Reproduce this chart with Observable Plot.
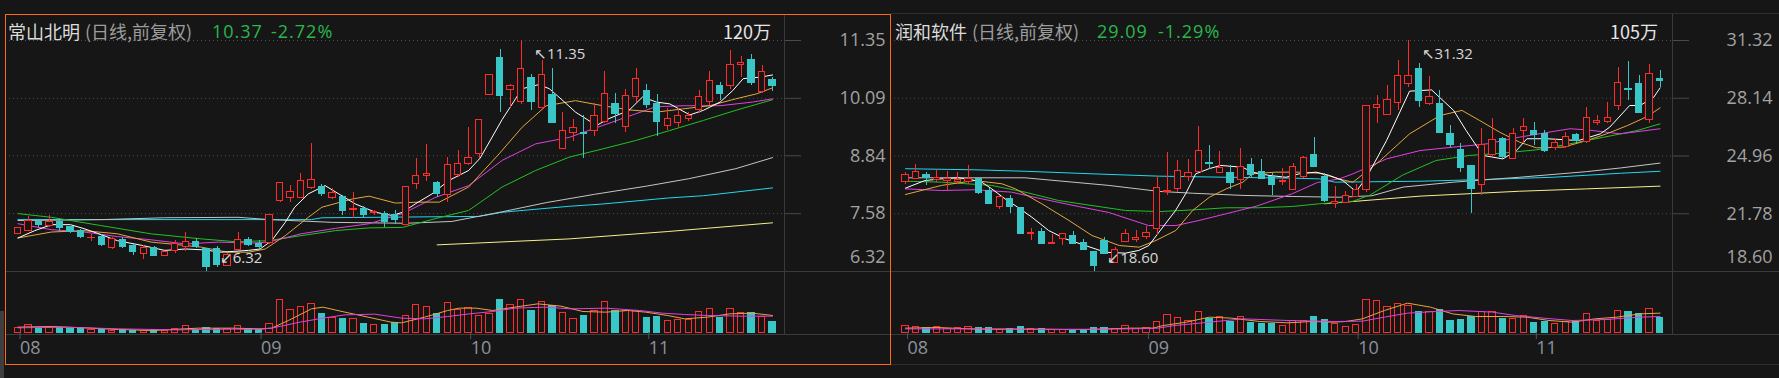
<!DOCTYPE html>
<html><head><meta charset="utf-8">
<script src="https://cdn.jsdelivr.net/npm/d3@7"></script>
<script src="https://cdn.jsdelivr.net/npm/@observablehq/plot@0.6"></script>
<style>
html,body{margin:0;padding:0;background:#161616;}
body{width:1779px;height:378px;position:relative;overflow:hidden;}
.abs{position:absolute;}
.t{position:absolute;white-space:nowrap;line-height:22px;font-family:"Noto Sans CJK SC",sans-serif;}
.n{font-family:"Open Sans",sans-serif;letter-spacing:1px;}
svg{display:block;}
</style></head><body>
<script>
// ---------- shared ----------
const months = ["08", "09", "10", "11"];
const monthStart = [0, 23, 43, 60];

// ---------- panel 1 : 常山北明 ----------
const p1Name = "常山北明";
const p1Sub = "(日线,前复权)";
const p1Last = "10.37";
const p1Chg = "-2.72%";
const p1VolLabel = "120万";
const p1YTicks = [11.35, 10.09, 8.84, 7.58, 6.32];
const p1Open = [7.14,7.21,7.39,7.32,7.39,7.28,7.21,7.04,7.08,6.83,7.01,6.87,6.71,6.83,6.65,6.76,6.85,6.96,6.80,6.82,6.44,6.79,7.01,6.91,6.93,7.85,7.93,7.93,8.13,8.17,7.93,7.95,7.65,7.69,7.59,7.58,7.56,7.34,8.23,8.40,8.24,7.99,8.43,8.67,8.87,10.17,10.97,10.28,10.01,10.54,9.88,10.17,8.99,9.33,9.34,9.39,9.57,9.97,9.46,10.12,10.26,9.96,9.48,9.56,9.64,9.83,10.01,10.37,10.37,10.81,10.92,10.22,10.50];
const p1High = [7.28,7.52,7.45,7.54,7.43,7.30,7.23,7.13,7.12,7.06,7.06,6.90,6.89,6.86,6.76,6.99,7.18,7.03,6.83,6.86,6.72,7.18,7.06,6.99,7.54,8.26,8.19,8.45,9.10,8.21,8.13,7.98,8.03,7.74,7.65,7.63,7.65,8.16,8.79,9.09,8.29,8.81,8.95,9.45,9.64,10.60,11.15,10.39,11.35,10.62,10.92,10.75,9.79,9.62,9.72,9.97,10.68,10.20,10.28,10.75,10.39,10.17,9.86,9.86,9.79,10.26,10.68,10.44,11.13,11.00,11.05,10.81,10.55];
const p1Low = [7.12,7.20,7.28,7.28,7.20,7.14,7.03,6.98,6.87,6.80,6.83,6.67,6.59,6.64,6.64,6.72,6.76,6.83,6.32,6.40,6.43,6.78,6.86,6.80,6.90,7.83,7.83,7.91,8.10,7.95,7.88,7.55,7.48,7.49,7.54,7.28,7.35,7.32,8.10,8.29,7.93,7.83,8.37,8.62,8.77,10.15,9.78,9.90,9.96,9.83,9.83,9.55,8.98,9.14,8.77,9.25,9.54,9.54,9.35,10.01,9.88,9.26,9.39,9.46,9.59,9.77,9.93,10.04,10.28,10.55,10.37,10.19,10.24];
const p1Close = [7.26,7.43,7.33,7.39,7.26,7.18,7.07,7.06,6.89,7.03,6.86,6.74,6.84,6.65,6.74,6.91,6.97,6.85,6.41,6.46,6.69,7.00,6.90,6.85,7.54,8.25,8.05,8.29,8.32,8.00,8.03,7.63,7.69,7.54,7.61,7.39,7.45,8.16,8.40,8.45,8.01,8.63,8.67,8.79,9.62,10.59,10.14,10.37,10.73,10.01,10.59,9.55,9.39,9.45,9.32,9.71,10.19,9.74,10.15,10.52,9.95,9.58,9.64,9.70,9.70,10.13,10.46,10.19,10.81,10.87,10.42,10.66,10.37];
const p1Vol = [8.7,14.7,7.3,8.7,9.3,7.3,8.7,5.3,5.3,4,4.7,3.3,3.3,4.7,3.3,8,12.7,6,8.7,7.3,7.3,12.7,7.3,6,16.7,65.3,45.3,50.7,57.3,37.3,29.3,27.3,27.3,17.3,15.3,16,19.3,33.3,55.3,50.7,37.3,59.3,45.3,49.3,33.3,37.3,65.3,55.3,65.3,44,61.3,52.7,39.3,27.3,33.3,42.7,61.3,42.7,44,44,29.3,31.3,22.7,24.7,26,41.3,46.7,29.3,46.7,39.3,39.3,30.7,22];
const p1Ma5 = [[0,7.05],[1.6,7.21],[3.2,7.34],[5,7.34],[6.2,7.26],[7.6,7.15],[9.5,6.99],[11.8,6.89],[14,6.78],[16,6.81],[17.8,6.79],[19.4,6.74],[20.7,6.76],[22,6.78],[23.1,6.81],[24.2,6.99],[25.5,7.39],[26.4,7.72],[27.7,8.01],[29.3,8.19],[32.2,7.79],[34.1,7.61],[35.7,7.54],[36.7,7.61],[37.9,7.79],[39.5,8.01],[41.1,8.30],[43,8.52],[44.1,8.79],[46.2,9.63],[48.1,10.30],[49.7,10.39],[50.7,10.30],[52,10.04],[53.2,9.79],[55.2,9.50],[56.4,9.65],[58.3,9.83],[59.6,10.12],[60.9,10.01],[62.2,9.97],[64.1,9.73],[65.4,9.83],[67,10.01],[68.2,10.26],[69.2,10.52],[70.8,10.55],[72,10.60]];
const p1Ma10 = [[0,7.05],[3.2,7.18],[6.3,7.21],[9.5,7.14],[12.7,6.96],[15,6.91],[17.5,6.85],[20,6.74],[22,6.74],[23.6,6.81],[25.5,7.10],[27.7,7.50],[29,7.72],[31.9,7.90],[33.5,7.96],[36,7.81],[38.2,7.83],[40.2,7.83],[43,8.16],[45.9,8.88],[48.1,9.46],[50.4,9.93],[53.2,10.04],[55.8,9.93],[58.3,9.84],[60.9,9.79],[63.4,9.86],[66,9.93],[68.5,10.08],[70.5,10.19],[72,10.32]];
const p1Ma20 = [[0,7.36],[3.2,7.23],[6.3,7.18],[9.5,7.08],[12.7,7.01],[16,6.92],[19.1,6.96],[22.3,6.94],[23.9,6.96],[27,7.14],[30.3,7.26],[33.5,7.36],[36.7,7.58],[39.8,7.93],[43,8.19],[46.2,8.74],[49.4,9.10],[52.6,9.24],[55.8,9.50],[58.9,9.75],[60.9,9.91],[63.8,9.93],[67,9.93],[70.1,10.01],[72,10.08]];
const p1Ma30 = [[0,7.58],[3.2,7.50],[7.9,7.32],[12.7,7.14],[17.5,7.03],[20.7,6.97],[23.9,6.99],[27,7.10],[30.3,7.21],[33.5,7.27],[36.7,7.28],[39.8,7.47],[43,7.65],[46.2,8.16],[49.4,8.52],[52.6,8.81],[55.8,8.99],[58.9,9.17],[62.2,9.39],[65.4,9.61],[68.5,9.83],[72,10.06]];
const p1Ma60 = [[0,7.43],[8,7.45],[14,7.49],[21,7.50],[24,7.45],[30,7.39],[37,7.37],[41.4,7.41],[46.2,7.62],[50.4,7.82],[55,8.00],[60,8.18],[64,8.34],[68.5,8.56],[72,8.80]];
const p1Ma120 = [[0,7.45],[28,7.45],[29,7.49],[44,7.52],[46.2,7.61],[52.6,7.74],[55.8,7.79],[62,7.92],[65.4,7.97],[72,8.14]];
const p1Ma250 = [[40,6.90],[52.6,7.03],[62,7.19],[72,7.38]];
const p1VolMa5 = [[0,10.7],[3.2,12],[6.4,9.3],[9.6,6],[12.9,4],[17.2,8.7],[20.4,8.7],[23.1,7.3],[24.2,8.7],[25.8,24],[28,47.3],[29.1,50.7],[31.2,40.7],[33.4,30.7],[35.6,20.7],[36.6,19.3],[38.8,30.7],[41,44],[42.1,48.7],[43.7,48.7],[45.3,44],[47.4,50.7],[49.6,57.3],[51.8,52.7],[53.9,42],[56.1,40.7],[58.2,44],[59.9,40.7],[62,34],[63.6,27.3],[65.8,30.7],[67.9,37.3],[70.1,38.7],[72,34]];
const p1VolMa10 = [[0,9.3],[4.3,10.7],[9.6,7.3],[15.1,5.3],[20.5,6.7],[23.1,6.7],[24.2,8.7],[26.9,20.7],[29.1,28.7],[31.2,35.3],[34,36.7],[36.6,28.7],[38.8,27.3],[41,32],[43.1,37.3],[45.3,42],[47.4,48.7],[50.2,50.7],[52.8,47.3],[56.1,48.7],[59.3,44],[61.5,38.7],[63.6,36],[65.8,34],[69,32.7],[72,32.7]];
const p1HighMark = [48, 11.35];
const p1LowMark = [18, 6.32];

// ---------- panel 2 : 润和软件 ----------
const p2Name = "润和软件";
const p2Sub = "(日线,前复权)";
const p2Last = "29.09";
const p2Chg = "-1.29%";
const p2VolLabel = "105万";
const p2YTicks = [31.32, 28.14, 24.96, 21.78, 18.60];
const p2Open = [23.52,23.70,23.94,23.65,23.57,23.52,23.55,23.70,23.02,22.14,22.60,22.09,20.64,20.80,20.13,20.40,20.58,20.18,19.70,20.27,19.06,20.21,20.31,20.49,20.95,22.97,23.13,23.79,24.09,24.58,24.02,24.03,23.63,24.44,24.10,23.79,23.52,23.10,23.78,24.99,23.79,22.33,22.38,22.69,23.10,27.61,27.23,27.87,28.90,29.76,27.80,27.83,26.18,25.30,24.40,23.34,24.99,25.87,24.80,26.36,26.36,26.18,25.41,25.45,26.09,25.72,26.80,26.82,27.74,28.66,28.90,26.95,29.18];
const p2High = [24.07,24.49,24.07,24.20,24.12,24.07,24.44,23.70,23.15,22.79,22.79,22.14,20.95,20.95,20.64,20.71,20.80,20.35,19.70,20.49,19.94,20.89,20.86,21.08,23.83,25.15,24.71,24.78,26.58,25.56,25.20,24.44,25.35,24.80,24.75,23.98,24.25,24.57,24.93,26.00,23.98,23.28,23.01,23.39,27.72,28.29,28.84,30.22,31.32,30.04,29.34,28.57,26.64,25.67,24.44,26.46,27.01,25.99,26.46,27.01,26.79,26.36,25.91,26.27,26.18,27.61,27.20,27.92,29.85,30.16,29.39,30.00,29.67];
const p2Low = [23.39,23.65,23.34,23.52,23.06,23.39,23.39,22.84,22.33,22.00,21.81,20.64,20.31,20.13,20.10,20.03,20.09,19.76,18.60,19.57,19.02,20.18,20.21,20.35,20.58,22.80,22.97,23.56,24.07,24.22,23.98,23.12,23.12,23.79,23.65,22.79,23.34,23.06,23.74,24.31,22.42,22.05,22.33,22.66,22.97,26.77,27.19,27.47,28.75,27.61,27.74,26.18,25.45,24.07,21.81,22.79,24.93,24.80,24.77,25.63,25.54,25.17,25.26,25.35,25.63,25.63,26.64,26.73,27.47,28.02,27.28,26.77,28.75];
const p2Close = [23.94,24.07,23.76,23.74,23.70,23.65,23.70,22.91,22.33,22.69,22.14,20.68,20.73,20.13,20.18,20.64,20.13,19.79,18.89,19.57,19.81,20.64,20.46,20.73,23.21,23.05,24.16,24.03,25.21,24.52,24.28,23.45,24.35,23.91,23.72,23.34,23.61,24.35,24.83,24.35,22.47,22.42,22.75,23.10,27.72,27.78,28.05,29.34,29.39,27.98,28.20,26.22,25.54,24.31,23.15,25.57,25.85,24.90,26.18,26.55,26.09,25.23,25.67,25.99,25.81,27.06,26.86,27.06,28.99,28.60,27.32,29.47,29.09];
const p2Vol = [13.3,11.3,8.7,10.7,7.3,8.7,10.7,8.7,8.7,5.3,7.3,11.3,7.3,7.3,6,6,6,6,9.3,8.7,7.3,12.7,7.3,8.7,20.7,35.3,28.7,24,40.7,27.3,30.7,22,30.7,19.3,17.3,17.3,14,24,24,30.7,25.3,17.3,10.7,15.3,64.7,62.7,50.7,57.3,54,40.7,40.7,44.7,23.3,25.3,32,40.7,42,27.3,27.3,34,19.3,20.7,17.3,20.7,20.7,36.7,24,24.7,42.7,41.3,36.7,46.7,29.3];
const p2Ma5 = [[0,23.19],[1.85,23.61],[3.44,23.70],[5.04,23.76],[6.32,23.65],[7.27,23.52],[8.23,23.15],[9.5,22.60],[10.78,22.11],[12.06,21.59],[13.65,20.86],[15.25,20.40],[17.16,20.03],[19.07,19.66],[20.99,19.61],[22.26,19.76],[23.22,20.03],[24.18,20.76],[25.77,21.96],[26.73,22.88],[27.69,23.98],[28.96,24.26],[30.08,24.44],[32.15,24.34],[33.11,24.07],[34.7,23.89],[36.3,23.79],[37.58,23.98],[39.17,24.07],[40.45,23.89],[41.72,23.61],[43,23.00],[44,23.79],[45.9,25.81],[48.1,28.53],[50.2,28.60],[52.3,27.47],[53.5,26.36],[55.1,24.99],[57,24.80],[58.3,25.26],[59.3,25.91],[61.2,25.91],[63.1,25.85],[64.2,25.81],[66.3,26.18],[67.2,26.55],[69.1,27.74],[70.1,27.74],[71.4,28.20],[72,28.71]];
const p2Ma10 = [[0,22.84],[3.44,23.34],[6.6,23.61],[9.2,23.43],[10.5,23.15],[13,22.33],[15.6,21.41],[17.8,20.58],[20.4,20.03],[22.3,19.94],[23.9,20.31],[25.8,20.86],[27.4,21.96],[29,22.69],[30.6,23.15],[32.2,23.52],[33.1,23.98],[35.3,24.07],[37.6,24.07],[39.5,24.01],[41.7,23.65],[42.7,23.52],[45.3,24.71],[48.1,26.18],[51,27.19],[53.1,27.47],[54.8,26.91],[56.7,26.27],[58.6,25.72],[60.2,25.41],[62.8,25.45],[65,25.81],[66.9,26.18],[68.9,26.64],[70.8,27.14],[72,27.61]];
const p2Ma20 = [[0,23.15],[3.44,23.06],[6.6,23.10],[10.1,22.97],[13,22.60],[16.5,22.18],[19.4,21.85],[23.2,21.13],[25.8,21.13],[28,21.41],[30.6,21.78],[33.5,22.20],[36.9,22.88],[39.3,23.50],[41.4,23.70],[42.7,23.98],[45.9,24.80],[49.1,25.26],[52.3,25.45],[55.5,25.63],[58.6,26.00],[61.8,26.31],[63.4,26.46],[65,26.40],[68.2,26.18],[72,26.46]];
const p2Ma30 = [[0,23.57],[3.44,23.52],[8.2,23.34],[11.4,22.97],[14.6,22.51],[17.8,22.23],[21,21.96],[24.2,21.90],[27.4,21.99],[30.6,22.11],[33.7,22.11],[36.9,22.18],[39.5,22.33],[42.7,22.47],[44.3,22.80],[47.4,23.90],[50.6,24.71],[53.8,24.99],[57,25.12],[60.2,25.30],[63.4,25.63],[66.6,25.99],[69.8,26.36],[72,26.73]];
const p2Ma60 = [[0,23.76],[11.4,23.76],[19.4,23.34],[24.2,23.01],[27.4,22.91],[32.2,22.79],[36.9,22.73],[41.4,22.69],[44.5,22.77],[47.5,23.25],[52.3,23.52],[58.6,23.79],[65,24.10],[68.2,24.30],[72,24.57]];
const p2Ma120 = [[0,24.26],[6.6,24.20],[11.4,24.12],[17.8,23.98],[24.2,23.85],[30.6,23.79],[36.9,23.74],[39.5,23.70],[41,23.52],[49.1,23.57],[55.5,23.67],[61.8,23.79],[68.2,24.01],[72,24.12]];
const p2Ma250 = [[40,22.33],[49.1,22.75],[58.6,23.02],[65,23.15],[72,23.30]];
const p2VolMa5 = [[0,8.7],[3,10],[6.8,6.7],[12.2,6.7],[17.6,6],[21.4,8.7],[23.6,8.7],[24.6,14],[26.8,20.7],[29,30.7],[31.1,28.7],[33.8,22],[36.5,19.3],[38.7,22],[40.9,20.7],[42,22],[43.6,27.3],[45.7,44],[47.9,58.7],[50.1,50.7],[52.2,37.3],[54.4,32],[57.1,32],[59.3,30.7],[61.4,24],[63.6,20.7],[65.8,27.3],[67.9,30.7],[70.1,37.3],[72,38.7]];
const p2VolMa10 = [[0,7.3],[6.8,7.3],[14.9,6],[21.4,7.3],[24.1,8.7],[25.7,14],[29,20.7],[32.2,27.3],[36.5,24],[40.9,22],[43.6,22.7],[45.7,30.7],[47.9,38.7],[50.6,42],[52.8,44],[56,40.7],[58.2,34],[60.9,28.7],[63.6,24],[66.8,26],[70.1,30.7],[72,32]];
const p2HighMark = [48, 31.32];
const p2LowMark = [18, 18.60];

// ---------- style ----------
const RED = "#ff2a2a", CYAN = "#3ac6c6", BG = "#161616";
const MA_COLORS = {ma5:"#ffffff", ma10:"#e2a73e", ma20:"#e041e0", ma30:"#22c022", ma60:"#c4c4c4", ma120:"#1ed8f2", ma250:"#f4f08e"};
const VOLMA_COLORS = {a:"#e2a73e", b:"#e041e0"};
const LINE_C = "#3a3a3a";

const panels = [
  {left:5, top:14, width:885, x0:17.5, step:10.48, axisAbs:784, labelEnd:885, border:"#ff6a10",
   name:p1Name, sub:p1Sub, last:p1Last, chg:p1Chg, volLabel:p1VolLabel, nameLeft:8, subLeft:85, lastLeft:212, chgLeft:271, volRight:771,
   yTicks:p1YTicks, open:p1Open, high:p1High, low:p1Low, close:p1Close, vol:p1Vol,
   ma:{ma250:p1Ma250, ma120:p1Ma120, ma60:p1Ma60, ma30:p1Ma30, ma20:p1Ma20, ma10:p1Ma10, ma5:p1Ma5},
   volMa5:p1VolMa5, volMa10:p1VolMa10, hi:p1HighMark, lo:p1LowMark},
  {left:890, top:13, width:889, x0:905, step:10.48, axisAbs:1672, labelEnd:1772, border:"#2e2e2e",
   name:p2Name, sub:p2Sub, last:p2Last, chg:p2Chg, volLabel:p2VolLabel, nameLeft:895, subLeft:972, lastLeft:1097, chgLeft:1158, volRight:1658,
   yTicks:p2YTicks, open:p2Open, high:p2High, low:p2Low, close:p2Close, vol:p2Vol,
   ma:{ma250:p2Ma250, ma120:p2Ma120, ma60:p2Ma60, ma30:p2Ma30, ma20:p2Ma20, ma10:p2Ma10, ma5:p2Ma5},
   volMa5:p2VolMa5, volMa10:p2VolMa10, hi:p2HighMark, lo:p2LowMark}
];

function div(css, html, cls) {
  const d = document.createElement("div");
  if (cls) d.className = cls;
  d.style.cssText = css;
  if (html != null) d.textContent = html;
  document.body.appendChild(d);
  return d;
}

function place(el, left, top, z) {
  const w = document.createElement("div");
  w.className = "abs";
  w.style.left = left + "px"; w.style.top = top + "px"; w.style.zIndex = z || 1;
  w.appendChild(el);
  document.body.appendChild(w);
}

function drawPanel(P) {
  const axisRel = P.axisAbs - P.left;
  const xDomain = [(P.left - P.x0) / P.step, (P.axisAbs - P.x0) / P.step];
  const rows = P.open.map((o, i) => ({i, o, h: P.high[i], l: P.low[i], c: P.close[i], v: P.vol[i], up: P.close[i] >= o}));
  const yt = P.yTicks;
  const labelOff = P.labelEnd - P.axisAbs;
  const hw = 0.3;
  const baseStyle = {background: "transparent", color: "#a2a2a2", fontFamily: "Open Sans, sans-serif", fontSize: "18px", overflow: "visible"};

  const maMarks = Object.keys(P.ma).map(k =>
    Plot.line(P.ma[k], {x: d => d[0], y: d => d[1], stroke: MA_COLORS[k], strokeWidth: 1}));

  const price = Plot.plot({
    width: P.width, height: 257, marginTop: 26, marginBottom: 0, marginLeft: 0, marginRight: P.width - axisRel,
    x: {domain: xDomain, axis: null},
    y: {domain: [yt[yt.length - 1], yt[0]], axis: null},
    style: baseStyle,
    marks: [
      Plot.gridY(yt.slice(0, -1), {stroke: "#4a4a4a", strokeOpacity: 1, strokeDasharray: "1,3"}),
      Plot.axisY(yt.slice(0, -1), {anchor: "right", tickSize: 16, tickPadding: labelOff - 16, textAnchor: "end",
        stroke: "#4a4a4a", fill: "#a2a2a2", tickFormat: d => d.toFixed(2)}),
      Plot.axisY(yt.slice(-1), {anchor: "right", tickSize: 0, tickPadding: labelOff, textAnchor: "end", dy: -14,
        fill: "#a2a2a2", tickFormat: d => d.toFixed(2)}),
      ...maMarks,
      Plot.ruleX(rows, {x: "i", y1: "l", y2: "h", stroke: d => d.up ? RED : CYAN, strokeWidth: 1, shapeRendering: "crispEdges"}),
      Plot.rect(rows, {x1: d => d.i - hw, x2: d => d.i + hw, y1: "o", y2: "c",
        fill: d => d.up ? BG : CYAN, stroke: d => d.up ? RED : CYAN, strokeWidth: 1, shapeRendering: "crispEdges"}),
      Plot.text([P.hi], {x: d => d[0], y: d => d[1], text: d => "↖" + d[1].toFixed(2), dx: 13, dy: 14,
        textAnchor: "start", fill: "#d8d8d8", fontSize: 15}),
      Plot.text([P.lo], {x: d => d[0], y: d => d[1], text: d => "↙" + d[1].toFixed(2), dx: 13, dy: -13,
        textAnchor: "start", fill: "#d8d8d8", fontSize: 15})
    ]
  });
  place(price, P.left, 14, 2);

  const vol = Plot.plot({
    width: P.width, height: 94, marginTop: 1, marginBottom: 33, marginLeft: 0, marginRight: P.width - axisRel,
    x: {domain: xDomain, axis: null},
    y: {domain: [0, 120], axis: null},
    style: baseStyle,
    marks: [
      Plot.rect(rows, {x1: d => d.i - hw, x2: d => d.i + hw, y1: 0, y2: "v",
        fill: d => d.up ? BG : CYAN, stroke: d => d.up ? RED : CYAN, strokeWidth: 1, shapeRendering: "crispEdges"}),
      Plot.line(P.volMa5, {x: d => d[0], y: d => d[1], stroke: VOLMA_COLORS.a, strokeWidth: 1}),
      Plot.line(P.volMa10, {x: d => d[0], y: d => d[1], stroke: VOLMA_COLORS.b, strokeWidth: 1}),
      Plot.axisX(monthStart, {anchor: "bottom", tickSize: 7, tickPadding: 2, textAnchor: "start", dx: 2,
        stroke: "#555", fill: "#8a939d", fontSize: 18, tickFormat: d => months[monthStart.indexOf(d)]})
    ]
  });
  place(vol, P.left, 271, 2);

  // structural lines
  div(`position:absolute;left:${P.left}px;top:271px;width:${P.width}px;height:1px;background:${LINE_C};z-index:1`);
  div(`position:absolute;left:${P.left}px;top:334px;width:${P.width}px;height:1px;background:${LINE_C};z-index:1`);
  div(`position:absolute;left:${P.axisAbs}px;top:${P.top}px;width:1px;height:${334 - P.top}px;background:${LINE_C};z-index:1`);
  // border
  div(`position:absolute;left:${P.left}px;top:${P.top}px;width:${P.width + 1}px;height:${365 - P.top}px;box-sizing:border-box;border:1px solid ${P.border};z-index:${P.border === "#2e2e2e" ? 3 : 4};pointer-events:none`);

  // title row
  div(`left:${P.nameLeft}px;top:20px;font-size:18px;color:#dcdcdc;z-index:5`, P.name, "t");
  div(`left:${P.subLeft}px;top:20px;font-size:18px;color:#9c9c9c;z-index:5`, P.sub, "t");
  div(`left:${P.lastLeft}px;top:20px;font-size:18px;color:#2ab74c;z-index:5`, P.last, "t n");
  div(`left:${P.chgLeft}px;top:20px;font-size:18px;color:#2ab74c;z-index:5`, P.chg, "t n");
  div(`left:${P.volRight - 70}px;width:70px;text-align:right;top:20px;font-size:18px;color:#e6e6e6;z-index:5`, P.volLabel, "t");
}

drawPanel(panels[1]);
drawPanel(panels[0]);
// left edge scroll strip
div("position:absolute;left:0;top:311px;width:4px;height:67px;background:#3e3e3e;z-index:1");
</script>
</body></html>
